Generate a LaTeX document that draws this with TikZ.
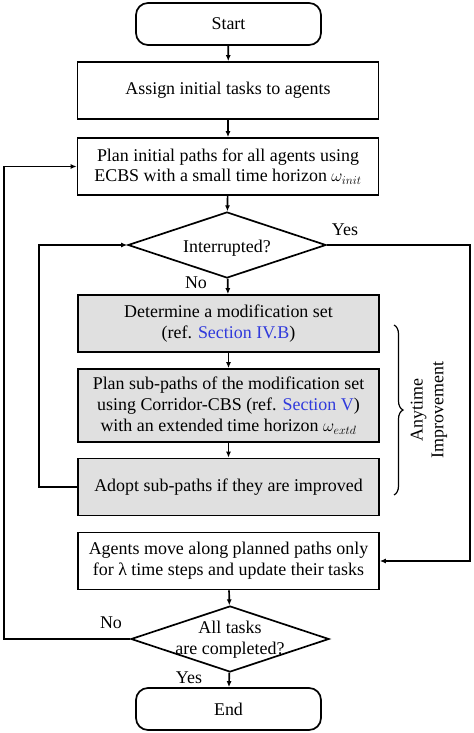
\documentclass[tikz,border=0pt]{standalone}
\usepackage{fontspec}
\setmainfont{Liberation Serif}
\usetikzlibrary{shapes.geometric,arrows.meta,positioning,decorations.pathreplacing}
\definecolor{boxgray}{RGB}{224,224,224}
\definecolor{refblue}{RGB}{48,58,220}

\begin{document}
\begin{tikzpicture}[
  x=1bp, y=-1bp,
  every node/.style={font=\fontsize{18}{21}\selectfont},
  term/.style={draw, rectangle, rounded corners=12bp, line width=1.7bp, minimum width=185bp, minimum height=42bp, inner sep=0pt},
  box/.style={draw, rectangle, line width=1.7bp, minimum width=301bp, minimum height=57bp, align=center, inner sep=0pt},
  dec/.style={draw, diamond, line width=1.7bp, minimum width=198bp, minimum height=66bp, inner sep=0pt},
  dectext/.style={align=center, inner sep=0pt},
  lbl/.style={inner sep=0pt},
  arr/.style={-{Latex[length=6bp,width=5bp]}, line width=1.7bp}
]
\useasboundingbox (0,0) rectangle (474,733);
\node[term] (start) at (228.5,24) {Start};
\node[box] (assign) at (228,90.5) {Assign initial tasks to agents};
\node[box] (plan) at (228,166.5) {Plan initial paths for all agents using\\ECBS with a small time horizon $\omega_{init}$};
\node[dec] (intr) at (227,245) {};
\node[dectext] (intrtxt) at (227,248) {Interrupted?};
\node[box, fill=boxgray] (modset) at (228.5,323.5) {Determine a modification set\\(ref. \textcolor{refblue}{Section IV.B})};
\node[box, fill=boxgray, minimum height=73bp] (subp) at (228.5,405.5) {Plan sub-paths of the modification set\\using Corridor-CBS (ref. \textcolor{refblue}{Section V})\\with an extended time horizon $\omega_{extd}$};
\node[box, fill=boxgray] (adopt) at (228.5,487) {Adopt sub-paths if they are improved};
\node[box] (move) at (228.5,561) {Agents move along planned paths only\\for λ time steps and update their tasks};
\node[dec] (done) at (230,639) {};
\node[dectext] (donetxt) at (230,640) {All tasks\\are completed?};
\node[term] (end) at (228.5,709) {End};
\node[lbl] (yes1) at (345,230) {Yes};
\node[lbl] (no1) at (196,283) {No};
\node[lbl] (no2) at (111,623) {No};
\node[lbl] (yes2) at (189,678) {Yes};
\draw[decorate, decoration={brace, amplitude=9bp}, line width=1.2bp] (394,325) -- (394,495);
\node[lbl, rotate=90, align=center] (anyt) at (429,410) {Anytime\\Improvement};
\draw[arr] (start) -- (assign);
\draw[arr] (assign) -- (plan);
\draw[arr] (plan) -- (intr);
\draw[arr] (intr) -- (modset);
\draw[arr] (modset) -- (subp);
\draw[arr] (subp) -- (adopt);
\draw[arr] (adopt.west) -- ++(-38,0) |- (intr.west);
\draw[arr] (intr.east) -- ++(143,0) |- (move.east);
\draw[arr] (move) -- (done);
\draw[arr] (done) -- (end);
\draw[arr] (done.west) -- ++(-126,0) |- (plan.west);
\end{tikzpicture}
\end{document}
